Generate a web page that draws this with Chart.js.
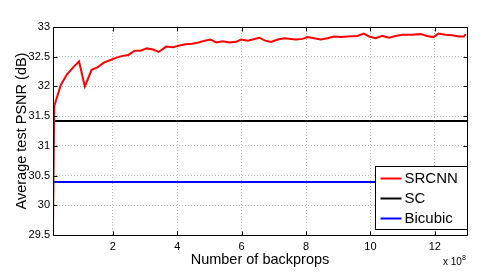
<!DOCTYPE html>
<html><head><meta charset="utf-8">
<script src="https://cdn.jsdelivr.net/npm/chart.js@4/dist/chart.umd.min.js"></script>
<style>html,body{margin:0;padding:0;background:#fff}#wrap{width:501px;height:279px}</style>
</head><body><div id="wrap"><canvas id="c" width="501" height="279"></canvas></div>
<script>
// Number of backprops (units of 1e8)
const backprops = [0.14, 0.18, 0.38, 0.57, 0.78, 0.95, 1.13, 1.34, 1.52, 1.72, 1.91, 2.09, 2.27, 2.48, 2.68, 2.86, 3.06, 3.25, 3.42, 3.66, 3.87, 4.07, 4.25, 4.46, 4.66, 4.85, 5.03, 5.21, 5.41, 5.62, 5.83, 5.98, 6.19, 6.55, 6.73, 6.91, 7.12, 7.33, 7.53, 7.69, 7.89, 8.05, 8.25, 8.46, 8.67, 8.87, 9.08, 9.28, 9.59, 9.80, 9.96, 10.16, 10.37, 10.58, 10.78, 10.99, 11.30, 11.56, 11.76, 11.95, 12.12, 12.33, 12.54, 12.74, 12.90, 12.96];
const srcnnPSNR = [29.66, 31.67, 32.02, 32.20, 32.33, 32.42, 32.00, 32.28, 32.32, 32.40, 32.44, 32.48, 32.51, 32.53, 32.60, 32.60, 32.64, 32.62, 32.58, 32.67, 32.66, 32.69, 32.71, 32.72, 32.74, 32.77, 32.79, 32.74, 32.76, 32.74, 32.75, 32.79, 32.77, 32.82, 32.77, 32.75, 32.79, 32.81, 32.80, 32.79, 32.80, 32.83, 32.81, 32.79, 32.81, 32.84, 32.83, 32.84, 32.85, 32.89, 32.84, 32.81, 32.85, 32.82, 32.85, 32.87, 32.87, 32.88, 32.85, 32.83, 32.89, 32.87, 32.86, 32.84, 32.84, 32.88];
const scPSNR = 31.42;
const bicubicPSNR = 30.39;
const xRange = [0.14, 13];
const yRange = [29.5, 33];
const xTickValues = [2, 4, 6, 8, 10, 12];
const yTickValues = [29.5, 30, 30.5, 31, 31.5, 32, 32.5, 33];
const seriesNames = ['SRCNN', 'SC', 'Bicubic'];
const seriesColors = ['#ff0000', '#000000', '#0000ff'];

const FONT = 'Arial, "Liberation Sans", Helvetica, sans-serif';

const srcnnData = backprops.map((x, i) => ({x: x, y: srcnnPSNR[i]}));
const scData = [{x: xRange[0], y: scPSNR}, {x: xRange[1], y: scPSNR}];
const bicData = [{x: xRange[0], y: bicubicPSNR}, {x: xRange[1], y: bicubicPSNR}];

const framePlugin = {
  id: 'frame',
  afterDatasetsDraw(chart) {
    const ctx = chart.ctx, a = chart.chartArea;
    const xs = chart.scales.x, ys = chart.scales.y;
    ctx.save();
    ctx.strokeStyle = '#000';
    ctx.lineWidth = 1;
    const L = Math.round(a.left) + 0.5, R = Math.round(a.right) + 0.5;
    const T = Math.round(a.top) + 0.5, B = Math.round(a.bottom) + 0.5;
    ctx.beginPath();
    ctx.rect(L, T, R - L, B - T);
    ctx.stroke();
    const tl = 4;
    ctx.beginPath();
    xTickValues.forEach(v => {
      const px = Math.round(xs.getPixelForValue(v)) + 0.5;
      ctx.moveTo(px, B); ctx.lineTo(px, B - tl);
      ctx.moveTo(px, T); ctx.lineTo(px, T + tl);
    });
    yTickValues.forEach(v => {
      const py = Math.round(ys.getPixelForValue(v)) + 0.5;
      ctx.moveTo(L, py); ctx.lineTo(L + tl, py);
      ctx.moveTo(R, py); ctx.lineTo(R - tl, py);
    });
    ctx.stroke();
    ctx.restore();
  },
  afterDraw(chart) {
    const ctx = chart.ctx, a = chart.chartArea;
    ctx.save();
    // legend box
    const lw = 92, lh = 63;
    const lx = Math.round(a.right) - lw + 0.5;
    const ly = Math.round(a.bottom) - 6 - lh + 0.5;
    ctx.fillStyle = '#fff';
    ctx.fillRect(lx, ly, lw, lh);
    ctx.strokeStyle = '#000';
    ctx.lineWidth = 1;
    ctx.strokeRect(lx, ly, lw, lh);
    ctx.font = '15px ' + FONT;
    ctx.textBaseline = 'middle';
    ctx.textAlign = 'left';
    chart.data.datasets.forEach((ds, i) => {
      const ry = ly + 12 + i * 20;
      ctx.strokeStyle = ds.borderColor;
      ctx.lineWidth = 2;
      ctx.beginPath();
      ctx.moveTo(lx + 5, ry); ctx.lineTo(lx + 26, ry);
      ctx.stroke();
      ctx.fillStyle = '#000';
      ctx.fillText(ds.label, lx + 29, ry + 0.5);
    });
    // exponent label
    ctx.fillStyle = '#000';
    ctx.font = '10px ' + FONT;
    ctx.textBaseline = 'alphabetic';
    ctx.textAlign = 'left';
    ctx.fillText('x 10', a.right - 24, a.bottom + 30);
    ctx.font = '7px ' + FONT;
    ctx.fillText('8', a.right - 5, a.bottom + 25);
    ctx.restore();
  }
};

new Chart(document.getElementById('c'), {
  type: 'line',
  data: {
    datasets: [
      {label: seriesNames[0], data: srcnnData, borderColor: seriesColors[0], borderWidth: 2, pointRadius: 0, tension: 0, fill: false},
      {label: seriesNames[1], data: scData, borderColor: seriesColors[1], borderWidth: 2, pointRadius: 0, tension: 0, fill: false},
      {label: seriesNames[2], data: bicData, borderColor: seriesColors[2], borderWidth: 2, pointRadius: 0, tension: 0, fill: false}
    ]
  },
  options: {
    responsive: false,
    animation: false,
    devicePixelRatio: 1,
    layout: {padding: {top: 27, right: 34, left: 0, bottom: 0}},
    plugins: {legend: {display: false}, tooltip: {enabled: false}},
    scales: {
      x: {
        type: 'linear', min: xRange[0], max: xRange[1],
        afterBuildTicks: s => { s.ticks = xTickValues.map(v => ({value: v})); },
        afterFit: s => { s.height = 44; },
        grid: {color: '#c0c0c0', lineWidth: 1, drawTicks: false},
        border: {display: false, dash: [1, 2]},
        ticks: {color: '#000', font: {family: FONT, size: 11}, padding: 5, maxRotation: 0, autoSkip: false, callback: v => String(v)},
        title: {display: true, text: 'Number of backprops', color: '#000', font: {family: FONT, size: 14.5}, padding: {top: 0, bottom: 10}}
      },
      y: {
        type: 'linear', min: yRange[0], max: yRange[1],
        afterBuildTicks: s => { s.ticks = yTickValues.map(v => ({value: v})); },
        afterFit: s => { s.width = 53; },
        grid: {color: '#c0c0c0', lineWidth: 1, drawTicks: false},
        border: {display: false, dash: [1, 2]},
        ticks: {color: '#000', font: {family: FONT, size: 11}, padding: 3, autoSkip: false, callback: v => String(v)},
        title: {display: true, text: 'Average test PSNR (dB)', color: '#000', font: {family: FONT, size: 14.5}, padding: {top: 13, bottom: 0}}
      }
    }
  },
  plugins: [framePlugin]
});
</script>
</body></html>
